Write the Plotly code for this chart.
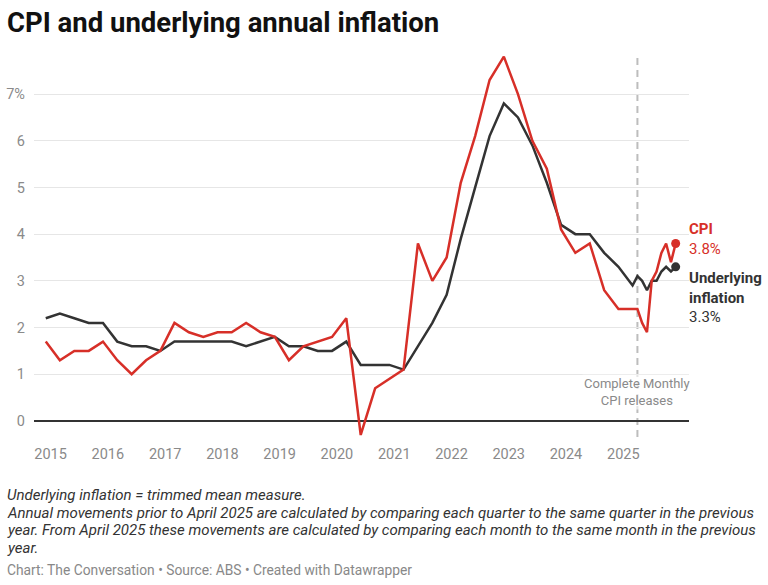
import plotly.graph_objects as go

# ---------------- data ----------------
periods = [
    "2014-12", "2015-03", "2015-06", "2015-09", "2015-12",
    "2016-03", "2016-06", "2016-09", "2016-12",
    "2017-03", "2017-06", "2017-09", "2017-12",
    "2018-03", "2018-06", "2018-09", "2018-12",
    "2019-03", "2019-06", "2019-09", "2019-12",
    "2020-03", "2020-06", "2020-09", "2020-12",
    "2021-03", "2021-06", "2021-09", "2021-12",
    "2022-03", "2022-06", "2022-09", "2022-12",
    "2023-03", "2023-06", "2023-09", "2023-12",
    "2024-03", "2024-06", "2024-09", "2024-12",
    "2025-03",
    "2025-04", "2025-05", "2025-06", "2025-07", "2025-08",
    "2025-09", "2025-10", "2025-11", "2025-12",
]

cpi = [
    1.7, 1.3, 1.5, 1.5, 1.7,
    1.3, 1.0, 1.3, 1.5,
    2.1, 1.9, 1.8, 1.9,
    1.9, 2.1, 1.9, 1.8,
    1.3, 1.6, 1.7, 1.8,
    2.2, -0.3, 0.7, 0.9,
    1.1, 3.8, 3.0, 3.5,
    5.1, 6.1, 7.3, 7.8,
    7.0, 6.0, 5.4, 4.1,
    3.6, 3.8, 2.8, 2.4,
    2.4,
    2.4, 2.1, 1.9, 3.0, 3.2,
    3.6, 3.8, 3.4, 3.8,
]

underlying = [
    2.2, 2.3, 2.2, 2.1, 2.1,
    1.7, 1.6, 1.6, 1.5,
    1.7, 1.7, 1.7, 1.7,
    1.7, 1.6, 1.7, 1.8,
    1.6, 1.6, 1.5, 1.5,
    1.7, 1.2, 1.2, 1.2,
    1.1, 1.6, 2.1, 2.7,
    3.9, 5.0, 6.1, 6.8,
    6.5, 5.9, 5.1, 4.2,
    4.0, 4.0, 3.6, 3.3,
    2.9,
    3.1, 3.0, 2.8, 3.0, 3.0,
    3.2, 3.3, 3.2, 3.3,
]

x_tick_vals = ["2015-01-01", "2016-01-01", "2017-01-01", "2018-01-01",
               "2019-01-01", "2020-01-01", "2021-01-01", "2022-01-01",
               "2023-01-01", "2024-01-01", "2025-01-01"]
x_tick_text = ["2015", "2016", "2017", "2018", "2019", "2020",
               "2021", "2022", "2023", "2024", "2025"]
y_tick_vals = [0, 1, 2, 3, 4, 5, 6, 7]
y_tick_text = ["0", "1", "2", "3", "4", "5", "6", "7%"]
monthly_start = "2025-04-01"

# ---------------- style ----------------
RED = "#d72f28"
DARK = "#333333"
FONT = "Roboto"

W, H = 768, 585
L, R, T, B = 34, 79, 50, 148
PW, PH = W - L - R, H - T - B


def px(x):
    return (x - L) / PW


def py(y):
    return (H - B - y) / PH


fig = go.Figure()

fig.add_trace(go.Scatter(
    x=periods, y=underlying, mode="lines", name="Underlying inflation",
    line=dict(color=DARK, width=2.5), hoverinfo="skip"))
fig.add_trace(go.Scatter(
    x=periods, y=cpi, mode="lines", name="CPI",
    line=dict(color=RED, width=2.5), hoverinfo="skip"))

# end dots
fig.add_trace(go.Scatter(
    x=[periods[-1]], y=[underlying[-1]], mode="markers",
    marker=dict(color=DARK, size=9), hoverinfo="skip", cliponaxis=False))
fig.add_trace(go.Scatter(
    x=[periods[-1]], y=[cpi[-1]], mode="markers",
    marker=dict(color=RED, size=9), hoverinfo="skip", cliponaxis=False))

# dashed line marking monthly releases
fig.add_shape(type="line", xref="x", yref="paper",
              x0=monthly_start, x1=monthly_start, y0=0, y1=0.982,
              line=dict(color="#bdbdbd", width=2, dash="7px,5px"), layer="below")

ann = []
ann.append(dict(x=monthly_start, xref="x", y=py(391.5), yref="paper",
                text="Complete Monthly<br>CPI releases", showarrow=False,
                xanchor="center", yanchor="middle", align="center",
                font=dict(family=FONT, size=13, color="#8a8a8a"),
                bgcolor="rgba(255,255,255,0.6)"))

# end labels
ann.append(dict(x=1, xref="paper", y=py(239), yref="paper",
                text=f"<b>CPI</b><br>{cpi[-1]:.1f}%", showarrow=False,
                xanchor="left", yanchor="middle", align="left", xshift=-2,
                font=dict(family=FONT, size=15, color=RED)))
ann.append(dict(x=1, xref="paper", y=py(297.5), yref="paper",
                text=f"<b>Underlying<br>inflation</b><br>{underlying[-1]:.1f}%",
                showarrow=False, xanchor="left", yanchor="middle", align="left",
                xshift=-2,
                font=dict(family=FONT, size=15, color=DARK)))

# title
ann.append(dict(x=px(5), xref="paper", y=py(22), yref="paper",
                text="<b>CPI and underlying annual inflation</b>", showarrow=False,
                xanchor="left", yanchor="middle",
                font=dict(family=FONT, size=27.5, color="#111111")))

# notes
notes = [
    "Underlying inflation = trimmed mean measure.",
    "Annual movements prior to April 2025 are calculated by comparing each quarter to the same quarter in the previous",
    "year. From April 2025 these movements are calculated by comparing each month to the same month in the previous",
    "year.",
]
for i, line in enumerate(notes):
    ann.append(dict(x=px(5), xref="paper", y=py(495 + i * 17.5), yref="paper",
                    text=f"<i>{line}</i>", showarrow=False,
                    xanchor="left", yanchor="middle",
                    font=dict(family=FONT, size=15, color="#333333")))

ann.append(dict(x=px(5), xref="paper", y=py(570), yref="paper",
                text="Chart: The Conversation • Source: ABS • Created with Datawrapper",
                showarrow=False, xanchor="left", yanchor="middle",
                font=dict(family=FONT, size=13.8, color="#888888")))

fig.update_layout(
    width=W, height=H,
    margin=dict(l=L, r=R, t=T, b=B, pad=0, autoexpand=False),
    paper_bgcolor="white", plot_bgcolor="white",
    showlegend=False,
    font=dict(family=FONT, color="#888888"),
    annotations=ann,
    xaxis=dict(
        type="date",
        range=["2014-09-17", "2026-02-24"],
        tickvals=x_tick_vals, ticktext=x_tick_text,
        showgrid=False, zeroline=False, showline=False, ticks="",
        tickfont=dict(family=FONT, size=14.5, color="#8a8a8a"),
        ticklabelstandoff=6, automargin=False,
    ),
    yaxis=dict(
        range=[-0.343, 7.943],
        tickvals=y_tick_vals, ticktext=y_tick_text,
        showgrid=True, gridcolor="#e6e6e6", gridwidth=1,
        zeroline=True, zerolinecolor="#333333", zerolinewidth=1.5,
        showline=False, ticks="",
        tickfont=dict(family=FONT, size=14.5, color="#8a8a8a"),
        ticklabelstandoff=8, automargin=False,
    ),
)

fig.write_html(
    "out.html",
    config={"displayModeBar": False},
    post_script="document.body.style.margin='0';document.body.style.padding='0';",
)
